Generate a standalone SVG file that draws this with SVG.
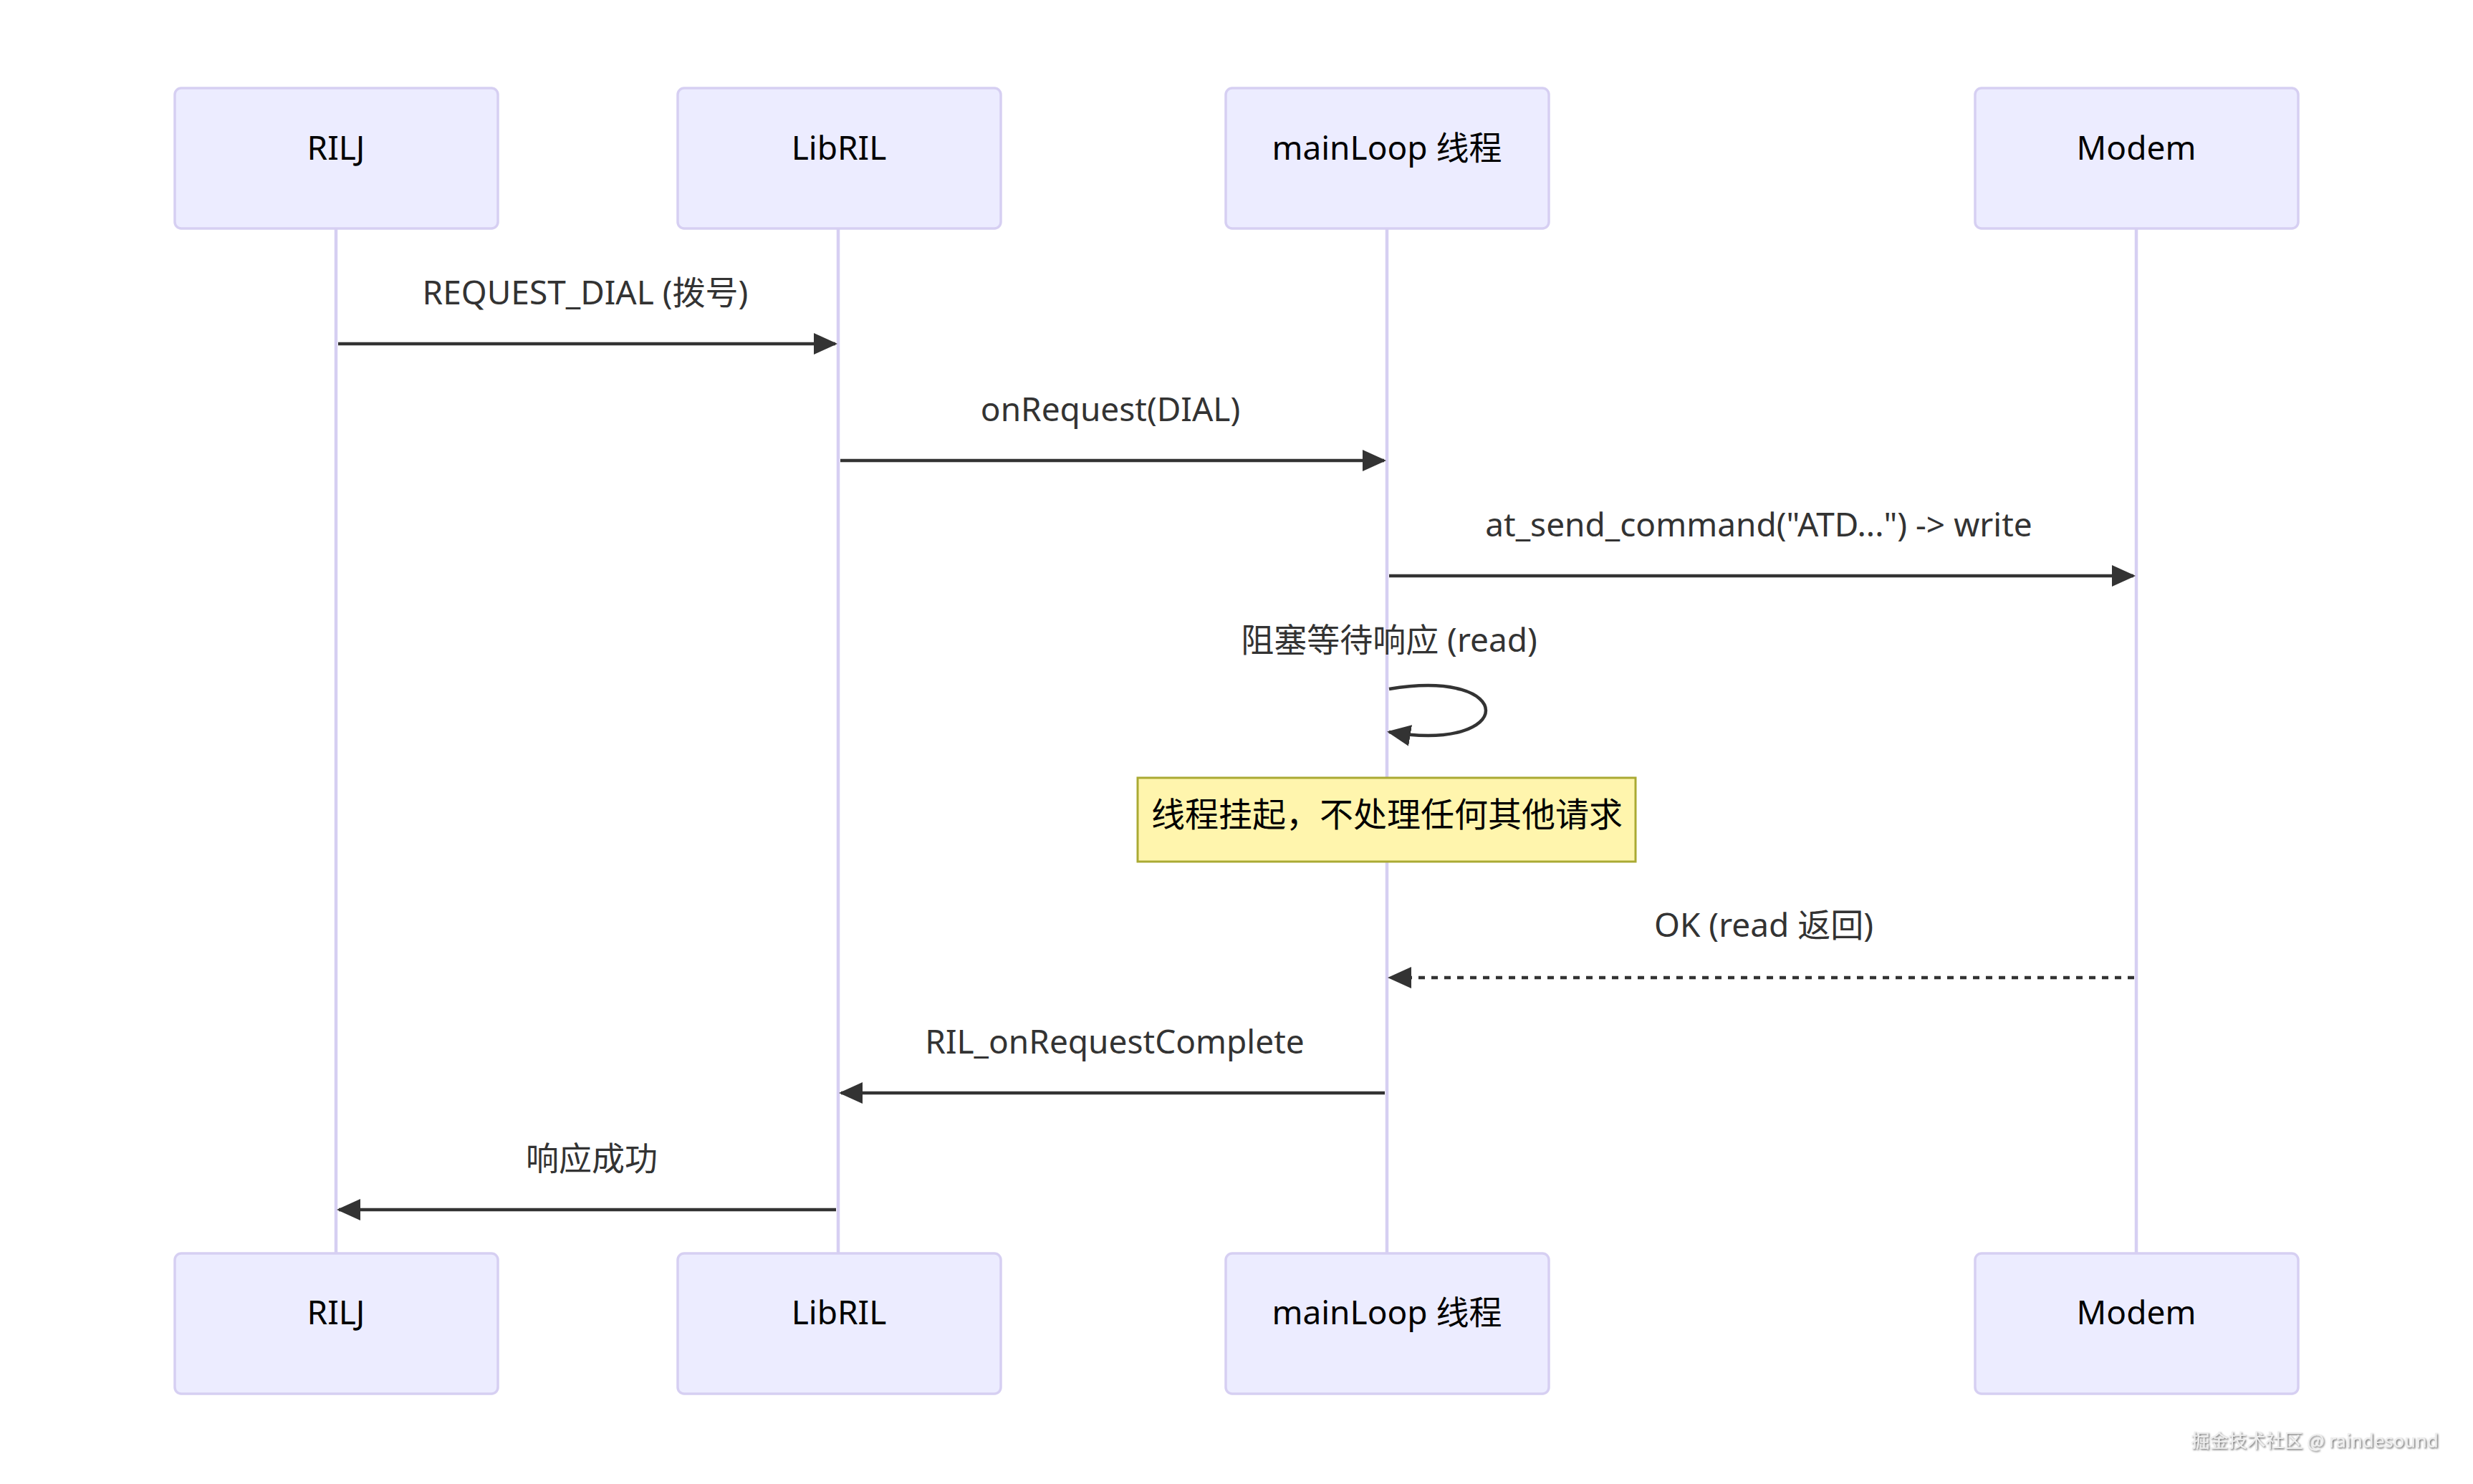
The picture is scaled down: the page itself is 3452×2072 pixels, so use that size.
<svg xmlns="http://www.w3.org/2000/svg" width="3452" height="2072" viewBox="0 0 3452 2072">
<style>
.actor{fill:#ECECFF;stroke:#D6CFF2;stroke-width:3.5}
.alabel{font-family:"Noto Sans","Noto Sans CJK SC",sans-serif;font-size:46px;fill:#000;text-anchor:middle;dominant-baseline:central}
.life{stroke:#D6CFF2;stroke-width:4.5}
.msg{stroke:#333;stroke-width:4.5;fill:none}
.dash{stroke-dasharray:9,9}
.mtext{font-family:"Noto Sans","Noto Sans CJK SC",sans-serif;font-size:46px;fill:#333;text-anchor:middle;dominant-baseline:central}
.note{fill:#FFF5AD;stroke:#AAAA33;stroke-width:3}
.ntext{font-family:"Noto Sans CJK SC","Noto Sans",sans-serif;font-size:47px;fill:#000;text-anchor:middle;dominant-baseline:central}
.wm{font-family:"Noto Sans CJK SC","Noto Sans",sans-serif;font-size:26px;fill:#eeeeee;text-anchor:end;dominant-baseline:central}
</style>
<defs>
<marker id="arrow" viewBox="0 0 11 10" refX="10" refY="5" markerUnits="userSpaceOnUse" markerWidth="33" markerHeight="30" orient="auto">
<path d="M0,0 L11,5 L0,10 z" fill="#333"/>
</marker>
<filter id="shadow" x="-5%" y="-30%" width="110%" height="160%">
<feDropShadow dx="1.5" dy="1.5" stdDeviation="0.8" flood-color="#555" flood-opacity="0.9"/>
</filter>
</defs>
<rect width="3452" height="2072" fill="#fff"/>
<g id="lifelines">
<line class="life" x1="469" y1="319" x2="469" y2="1750"/>
<line class="life" x1="1170" y1="319" x2="1170" y2="1750"/>
<line class="life" x1="1936" y1="319" x2="1936" y2="1750"/>
<line class="life" x1="2982" y1="319" x2="2982" y2="1750"/>
</g>
<g id="actor-RILJ-top"><rect class="actor" x="244" y="123" width="451" height="196" rx="9"/><text class="alabel" x="469" y="205">RILJ</text></g>
<g id="actor-LibRIL-top"><rect class="actor" x="946" y="123" width="451" height="196" rx="9"/><text class="alabel" x="1171" y="205">LibRIL</text></g>
<g id="actor-mainLoop-top"><rect class="actor" x="1711" y="123" width="451" height="196" rx="9"/><text class="alabel" x="1936" y="205">mainLoop 线程</text></g>
<g id="actor-Modem-top"><rect class="actor" x="2757" y="123" width="451" height="196" rx="9"/><text class="alabel" x="2982" y="205">Modem</text></g>
<g id="actor-RILJ-bottom"><rect class="actor" x="244" y="1750" width="451" height="196" rx="9"/><text class="alabel" x="469" y="1831">RILJ</text></g>
<g id="actor-LibRIL-bottom"><rect class="actor" x="946" y="1750" width="451" height="196" rx="9"/><text class="alabel" x="1171" y="1831">LibRIL</text></g>
<g id="actor-mainLoop-bottom"><rect class="actor" x="1711" y="1750" width="451" height="196" rx="9"/><text class="alabel" x="1936" y="1831">mainLoop 线程</text></g>
<g id="actor-Modem-bottom"><rect class="actor" x="2757" y="1750" width="451" height="196" rx="9"/><text class="alabel" x="2982" y="1831">Modem</text></g>
<g id="note"><rect class="note" x="1588" y="1086" width="695" height="117"/><text class="ntext" x="1936" y="1133">线程挂起，不处理任何其他请求</text></g>
<g id="connectors">
<line class="msg" x1="472" y1="480" x2="1166" y2="480" marker-end="url(#arrow)"/>
<line class="msg" x1="1173" y1="643" x2="1932" y2="643" marker-end="url(#arrow)"/>
<line class="msg" x1="1939" y1="804" x2="2978" y2="804" marker-end="url(#arrow)"/>
<path class="msg" d="M1939,962 C2119,932 2119,1052 1939,1022" marker-end="url(#arrow)"/>
<line class="msg dash" x1="2979" y1="1365" x2="1940" y2="1365" marker-end="url(#arrow)"/>
<line class="msg" x1="1933" y1="1526" x2="1174" y2="1526" marker-end="url(#arrow)"/>
<line class="msg" x1="1167" y1="1689" x2="473" y2="1689" marker-end="url(#arrow)"/>
</g>
<g id="message-labels">
<text class="mtext" x="817" y="407">REQUEST_DIAL (拨号)</text>
<text class="mtext" x="1550" y="570">onRequest(DIAL)</text>
<text class="mtext" x="2455" y="731">at_send_command("ATD...") -&gt; write</text>
<text class="mtext" x="1939" y="892">阻塞等待响应 (read)</text>
<text class="mtext" x="2462" y="1290">OK (read 返回)</text>
<text class="mtext" x="1556" y="1453">RIL_onRequestComplete</text>
<text class="mtext" x="826" y="1616">响应成功</text>
</g>
<text class="wm" x="3404" y="2009" filter="url(#shadow)">掘金技术社区 @ raindesound</text>
</svg>
